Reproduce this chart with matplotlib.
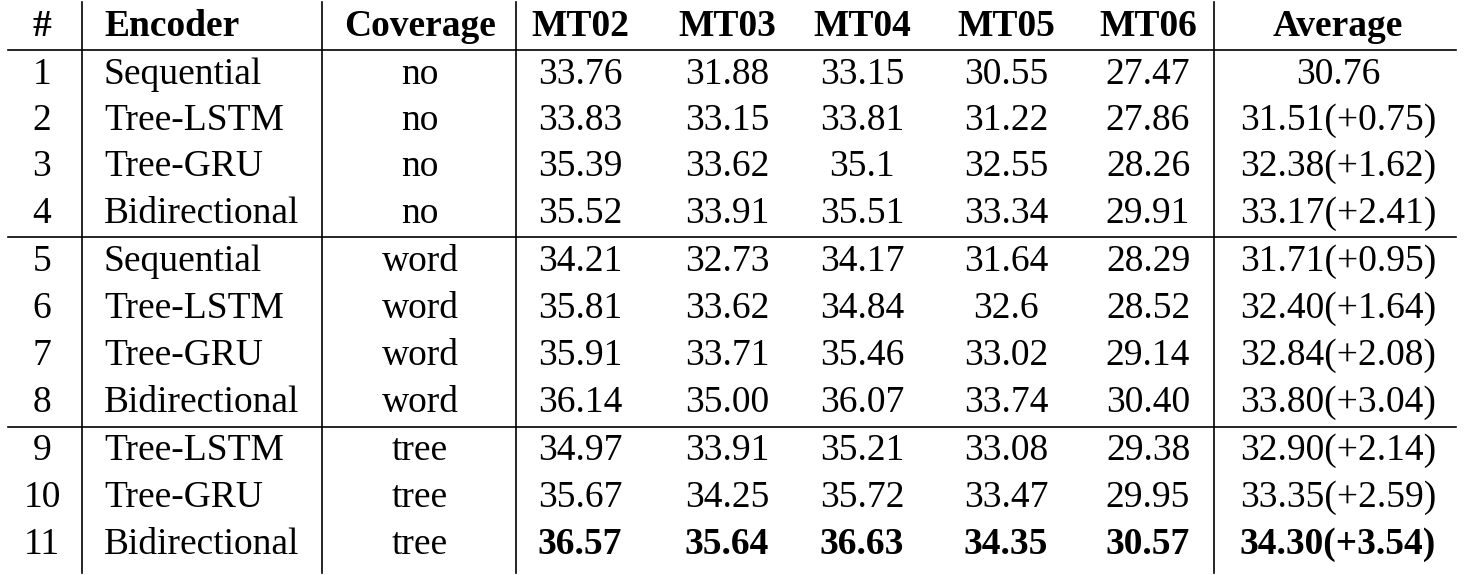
import matplotlib
matplotlib.use("Agg")
import matplotlib.pyplot as plt

headers = ["#", "Encoder", "Coverage", "MT02", "MT03", "MT04", "MT05", "MT06", "Average"]
ids = [str(i) for i in range(1, 12)]
encoders = ["Sequential", "Tree-LSTM", "Tree-GRU", "Bidirectional",
            "Sequential", "Tree-LSTM", "Tree-GRU", "Bidirectional",
            "Tree-LSTM", "Tree-GRU", "Bidirectional"]
coverage = ["no"] * 4 + ["word"] * 4 + ["tree"] * 3
mt02 = ["33.76", "33.83", "35.39", "35.52", "34.21", "35.81", "35.91", "36.14", "34.97", "35.67", "36.57"]
mt03 = ["31.88", "33.15", "33.62", "33.91", "32.73", "33.62", "33.71", "35.00", "33.91", "34.25", "35.64"]
mt04 = ["33.15", "33.81", "35.1", "35.51", "34.17", "34.84", "35.46", "36.07", "35.21", "35.72", "36.63"]
mt05 = ["30.55", "31.22", "32.55", "33.34", "31.64", "32.6", "33.02", "33.74", "33.08", "33.47", "34.35"]
mt06 = ["27.47", "27.86", "28.26", "29.91", "28.29", "28.52", "29.14", "30.40", "29.38", "29.95", "30.57"]
average = ["30.76", "31.51(+0.75)", "32.38(+1.62)", "33.17(+2.41)", "31.71(+0.95)", "32.40(+1.64)",
           "32.84(+2.08)", "33.80(+3.04)", "32.90(+2.14)", "33.35(+2.59)", "34.30(+3.54)"]

plt.rcParams["font.family"] = ["Liberation Serif", "DejaVu Serif"]
W, H = 1464, 575
fig = plt.figure(figsize=(W / 100, H / 100), dpi=100)
ax = fig.add_axes([0, 0, 1, 1])
ax.set_xlim(0, W)
ax.set_ylim(H, 0)
ax.axis("off")
fs = 27

col_x = [42, 104, 420, 580, 727, 862, 1006, 1148, 1338]
col_ha = ["center", "left", "center", "center", "center", "center", "center", "center", "center"]
header_y = 27
row_y = [75, 121, 167, 214, 262, 309, 356, 403, 451, 498, 545]

for x, ha, h in zip(col_x, col_ha, headers):
    ax.text(x, header_y, h, ha=ha, va="center", fontsize=fs, fontweight="bold")

cols = [ids, encoders, coverage, mt02, mt03, mt04, mt05, mt06, average]
for r, y in enumerate(row_y):
    for c, (x, ha, col) in enumerate(zip(col_x, col_ha, cols)):
        bold = (r == len(row_y) - 1) and c >= 3
        ax.text(x, y, col[r], ha=ha, va="center", fontsize=fs,
                fontweight="bold" if bold else "normal")

for y in [50, 237, 427]:
    ax.plot([8, 1456], [y, y], color="black", lw=1.2)
for x in [82, 322, 516, 1214]:
    ax.plot([x, x], [2, 573], color="black", lw=1.2)

fig.savefig("out.png", dpi=100)
